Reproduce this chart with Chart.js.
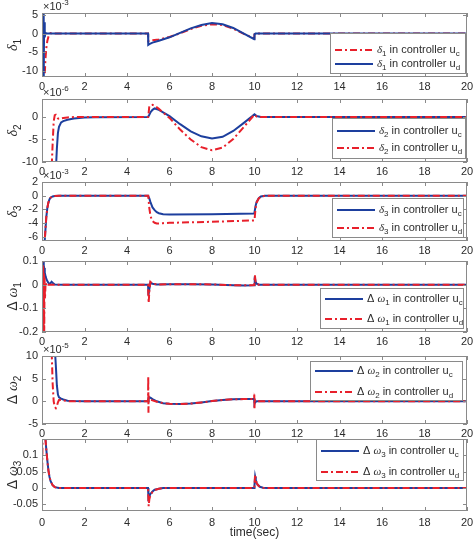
<!DOCTYPE html>
<html>
<head>
<meta charset="utf-8">
<script src="https://cdn.jsdelivr.net/npm/chart.js@4.4.1/dist/chart.umd.min.js"></script>
<style>
  html, body { margin: 0; padding: 0; background: #fff; }
  #fig { position: relative; width: 474px; height: 542px; overflow: hidden; background: #fff; }
  .panel { position: absolute; left: 0; width: 474px; }
</style>
</head>
<body>
<div id="fig"></div>
<script>
'use strict';
//x axis ticks shared by every panel
var xTicks = [0, 2, 4, 6, 8, 10, 12, 14, 16, 18, 20];

//delta 1 (x10^-3)
var delta1Time = [0, 0.02, 0.04, 0.06, 0.08, 0.1, 0.13, 0.16, 0.2, 0.25, 0.3, 0.35, 0.4, 0.5, 0.6, 1, 4.99, 5, 5.05, 5.2, 5.5, 6, 6.5, 7, 7.5, 8, 8.5, 9, 9.5, 9.99, 10, 10.05, 20];
var delta1Uc = [-14, -14, -14, -14, -14, -14, -11, -7, -4, -2, -0.9, -0.3, 0.1, 0, 0, 0, 0, -2, -1.9, -1.8, -1.6, -0.9, 0.1, 1.2, 2.1, 2.5, 2.3, 1.3, -0.1, -1.3, -0.2, 0, 0];
var delta1Ud = [0, 7, -14, 7, -14, 3, -1, 0.3, 0, 0, 0, 0, 0, 0, 0, 0, 0, -3, -2.8, -2.4, -1.9, -1.0, 0.2, 1.4, 2.3, 2.8, 2.5, 1.5, 0, -1.5, -0.2, 0, 0];
var delta1Ticks = [-10, -5, 0, 5];

//delta 2 (x10^-6)
var delta2Time = [0, 0.45, 0.5, 0.55, 0.6, 0.65, 0.7, 0.75, 0.8, 0.9, 1, 1.2, 1.5, 2, 2.5, 4.99, 5, 5.05, 5.1, 5.2, 5.3, 5.5, 6, 6.5, 7, 7.5, 8, 8.5, 9, 9.5, 9.9, 10, 10.1, 10.3, 20];
var delta2Uc = [-12, -12, -12, -12, -12, -12, -7, -3.5, -2.2, -1.2, -0.9, -0.6, -0.35, -0.12, -0.04, 0, 0, 0.5, 1.0, 1.6, 1.9, 1.6, 0.2, -1.6, -3.2, -4.3, -4.8, -4.4, -3.1, -1.3, 0.2, 0.6, 0.2, 0, 0];
var delta2Ud = [-12, -12, -6, -1, 0.4, 0.5, 0.1, -0.3, -0.4, -0.3, -0.2, -0.1, 0, 0, 0, 0, 0, 2.4, 2.6, 2.7, 2.5, 1.8, -0.2, -2.8, -5.0, -6.7, -7.4, -6.8, -4.9, -2.2, 0, 0.5, 0.1, 0, 0];
var delta2Ticks = [-10, -5, 0];

//delta 3 (x10^-3)
var delta3Time = [0, 0.1, 0.15, 0.2, 0.25, 0.3, 0.35, 0.4, 0.5, 0.6, 0.8, 4.99, 5, 5.05, 5.1, 5.15, 5.2, 5.3, 5.4, 5.5, 5.7, 6, 8, 9.99, 10, 10.05, 10.1, 10.2, 10.3, 10.5, 20];
var delta3Uc = [-8, -8, -5.5, -3.2, -1.8, -1.0, -0.55, -0.3, -0.1, -0.03, 0, 0, 0, -0.4, -0.9, -1.3, -1.7, -2.1, -2.4, -2.55, -2.7, -2.75, -2.7, -2.6, -2.6, -1.5, -0.9, -0.35, -0.12, 0, 0];
var delta3Ud = [-8, -8, -5.5, -3.2, -1.8, -1.0, -0.55, -0.3, -0.1, -0.03, 0, 0, 0, -1.8, -2.8, -3.4, -3.7, -3.95, -4.05, -4.05, -4.0, -3.95, -3.8, -3.6, -3.6, -1.8, -1.0, -0.4, -0.12, 0, 0];
var delta3Ticks = [-6, -4, -2, 0, 2];

//delta omega 1
var dw1Time = [0, 0.015, 0.03, 0.045, 0.06, 0.075, 0.09, 0.105, 0.12, 0.14, 0.17, 0.2, 0.25, 0.3, 0.35, 0.4, 0.45, 0.5, 0.6, 1, 4.99, 5, 5.02, 5.05, 5.1, 5.2, 5.4, 6, 7, 8, 9, 9.5, 9.99, 10, 10.02, 10.05, 10.1, 10.2, 20];
var dw1Uc = [0.12, 0.12, 0.11, 0.11, 0.1, 0.09, 0.08, 0.07, 0.06, 0.05, 0.035, 0.025, 0.015, 0.008, 0.004, 0.006, 0.012, 0.008, 0.001, 0, 0, -0.02, -0.045, -0.02, 0.008, 0.004, 0.001, 0.002, 0.002, 0.001, -0.002, -0.003, -0.002, 0.01, 0.035, 0.012, 0.004, 0, 0];
var dw1Ud = [0.1, -0.22, 0.12, -0.22, 0.08, -0.22, 0.05, -0.2, 0.03, -0.06, 0.01, -0.005, 0.002, 0, 0, 0, 0, 0, 0, 0, 0, -0.03, -0.078, -0.03, 0.012, 0.004, 0.001, 0.002, 0.002, 0.001, -0.002, -0.003, -0.002, 0.01, 0.04, 0.012, 0.004, 0, 0];
var dw1Ticks = [-0.2, -0.1, 0, 0.1];

//delta omega 2 (x10^-5)
var dw2Time = [0, 0.45, 0.5, 0.55, 0.6, 0.65, 0.7, 0.75, 0.8, 0.9, 1, 1.2, 1.5, 2, 4.99, 5, 5.01, 5.02, 5.03, 5.05, 5.1, 5.2, 5.4, 5.7, 6, 6.5, 7, 7.5, 8, 8.5, 9, 9.5, 9.98, 9.99, 10, 10.01, 10.03, 10.1, 20];
var dw2Uc = [12, 12, 12, 12, 12, 8, 3.5, 1.5, 0.9, 0.6, 0.4, 0.15, 0.05, 0, 0, 0, 0.3, 0.6, 0.8, 0.9, 0.8, 0.5, 0, -0.4, -0.55, -0.6, -0.5, -0.25, 0.05, 0.3, 0.45, 0.5, 0.5, 0.6, 0.2, -0.5, -0.2, 0, 0];
var dw2Ud = [12, 12, 4, 0, -1.2, -1.5, -1.0, -0.2, 0.3, 0.35, 0.2, 0.05, 0, 0, 0, 5.5, -2.5, 1.5, 0.8, 0.6, 0.4, 0.2, -0.1, -0.4, -0.55, -0.6, -0.5, -0.25, 0.05, 0.3, 0.45, 0.5, 0.5, 1.5, -1.5, 0.3, -0.1, 0, 0];
var dw2Ticks = [-5, 0, 5, 10];

//delta omega 3
var dw3Time = [0, 0.03, 0.06, 0.1, 0.15, 0.2, 0.25, 0.3, 0.35, 0.4, 0.5, 0.6, 0.8, 4.99, 5, 5.02, 5.05, 5.1, 5.2, 5.3, 5.5, 5.7, 9.99, 10, 10.03, 10.06, 10.1, 10.15, 10.25, 10.4, 10.6, 20];
var dw3Uc = [0.17, 0.17, 0.17, 0.17, 0.16, 0.12, 0.085, 0.055, 0.035, 0.022, 0.009, 0.003, 0, 0, -0.015, -0.03, -0.025, -0.018, -0.01, -0.005, -0.002, 0, 0, 0.01, 0.035, 0.025, 0.016, 0.01, 0.004, 0.001, 0, 0];
var dw3Ud = [0.01, 0.17, 0.17, 0.17, 0.16, 0.12, 0.085, 0.055, 0.035, 0.022, 0.009, 0.003, 0, 0, -0.02, -0.055, -0.035, -0.022, -0.012, -0.006, -0.002, 0, 0, 0.012, 0.042, 0.026, 0.016, 0.01, 0.004, 0.001, 0, 0];
var dw3Ticks = [-0.05, 0, 0.05, 0.1];

//line styles
var BLUE = {color: '#1d3f9e', dash: []};
var RED = {color: '#e8202b', dash: [7, 3, 2, 3]};
var BOX_COLOR = '#8a8a8a';
var TEXT_COLOR = '#2b2b2b';
var PLOT_LEFT = 42;
var PLOT_RIGHT = 467;

function deltaSym(n){
  return [{t: 'δ', it: true, serif: true}, {t: n, sub: true}];
}
function omegaSym(n){
  return [{t: 'Δ '}, {t: 'ω', it: true, serif: true}, {t: n, sub: true}];
}

//panel layout + content
var panels = [
  {top: 13, bottom: 77, ymin: -11.6, ymax: 5.5, yTicks: delta1Ticks, exp: '-3', sym: deltaSym('1'),
    time: delta1Time, series: [[delta1Uc, RED, 'c'], [delta1Ud, BLUE, 'd']], topSeries: 1,
    legendBox: [330, 33, 466, 74], legendY: [50, 64]},
  {top: 99, bottom: 162, ymin: -10, ymax: 4, yTicks: delta2Ticks, exp: '-6', sym: deltaSym('2'),
    time: delta2Time, series: [[delta2Uc, BLUE, 'c'], [delta2Ud, RED, 'd']], topSeries: 1,
    legendBox: [332, 118, 466, 159], legendY: [131, 148]},
  {top: 182, bottom: 241, ymin: -6.6, ymax: 2, yTicks: delta3Ticks, exp: '-3', sym: deltaSym('3'),
    time: delta3Time, series: [[delta3Uc, BLUE, 'c'], [delta3Ud, RED, 'd']], topSeries: 1,
    legendBox: [332, 198, 464, 238], legendY: [210, 228]},
  {top: 261, bottom: 332, ymin: -0.2, ymax: 0.1, yTicks: dw1Ticks, exp: null, sym: omegaSym('1'),
    time: dw1Time, series: [[dw1Uc, BLUE, 'c'], [dw1Ud, RED, 'd']], topSeries: 1,
    legendBox: [320, 288, 464, 329], legendY: [299, 319]},
  {top: 356, bottom: 424, ymin: -5, ymax: 10, yTicks: dw2Ticks, exp: '-5', sym: omegaSym('2'),
    time: dw2Time, series: [[dw2Uc, BLUE, 'c'], [dw2Ud, RED, 'd']], topSeries: 1,
    legendBox: [310, 361, 463, 401], legendY: [371, 392]},
  {top: 439, bottom: 511, ymin: -0.07, ymax: 0.15, yTicks: dw3Ticks, exp: null, sym: omegaSym('3'),
    time: dw3Time, series: [[dw3Uc, BLUE, 'c'], [dw3Ud, RED, 'd']], topSeries: 1,
    legendBox: [316, 439, 464, 481], legendY: [451, 472], xlabel: 'time(sec)', xPad: 5}
];

Chart.defaults.font.family = "'Liberation Sans', Arial, sans-serif";
Chart.defaults.font.size = 11;
Chart.defaults.color = TEXT_COLOR;

//rich text helpers (subscripts / superscripts)
function richFont(p, size){
  var s = (p.sub || p.sup) ? Math.round(size * 0.72) : size;
  var fam = p.serif ? "'Liberation Serif', 'DejaVu Serif', serif" : "'Liberation Sans', Arial, sans-serif";
  return (p.it ? 'italic ' : '') + s + 'px ' + fam;
}
function measureRich(ctx, parts, size){
  var w = 0;
  parts.forEach(function(p){
    ctx.font = richFont(p, size);
    w += ctx.measureText(p.t).width;
  });
  return w;
}
function drawRich(ctx, parts, x, y, size){
  ctx.textAlign = 'left';
  ctx.textBaseline = 'middle';
  parts.forEach(function(p){
    ctx.font = richFont(p, size);
    var dy = p.sub ? size * 0.35 : (p.sup ? -size * 0.4 : 0);
    ctx.fillText(p.t, x, y + dy);
    x += ctx.measureText(p.t).width;
  });
  return x;
}

function toPoints(time, vals){
  var pts = [];
  for(var i = 0; i < time.length; i++){
    pts.push({x: time[i], y: vals[i]});
  }
  return pts;
}

//draws box, inward ticks, legend and labels on top of the lines
var decorPlugin = {
  id: 'matlabDecor',
  afterDraw: function(chart){
    var p = chart.options.plugins.matlabDecor.panel;
    var offY = chart.options.plugins.matlabDecor.offY;
    var ctx = chart.ctx;
    var area = chart.chartArea;
    var xs = chart.scales.x;
    var ys = chart.scales.y;

    ctx.save();
    ctx.setLineDash([]);
    ctx.strokeStyle = BOX_COLOR;
    ctx.lineWidth = 1;
    ctx.strokeRect(area.left + 0.5, area.top + 0.5, area.right - area.left - 1, area.bottom - area.top - 1);

    ctx.beginPath();
    xTicks.forEach(function(v){
      var px = Math.round(xs.getPixelForValue(v)) + 0.5;
      ctx.moveTo(px, area.bottom); ctx.lineTo(px, area.bottom - 4);
      ctx.moveTo(px, area.top); ctx.lineTo(px, area.top + 4);
    });
    p.yTicks.forEach(function(v){
      var py = Math.round(ys.getPixelForValue(v)) + 0.5;
      ctx.moveTo(area.left, py); ctx.lineTo(area.left + 4, py);
      ctx.moveTo(area.right, py); ctx.lineTo(area.right - 4, py);
    });
    ctx.stroke();

    //legend
    var b = p.legendBox;
    ctx.fillStyle = '#fff';
    ctx.fillRect(b[0], b[1] - offY, b[2] - b[0], b[3] - b[1]);
    ctx.strokeStyle = BOX_COLOR;
    ctx.strokeRect(b[0] + 0.5, b[1] - offY + 0.5, b[2] - b[0] - 1, b[3] - b[1] - 1);
    p.series.forEach(function(s, i){
      var y = p.legendY[i] - offY;
      ctx.strokeStyle = s[1].color;
      ctx.lineWidth = 2;
      ctx.setLineDash(s[1].dash);
      ctx.beginPath();
      ctx.moveTo(b[0] + 5, y); ctx.lineTo(b[0] + 43, y);
      ctx.stroke();
      ctx.setLineDash([]);
      ctx.fillStyle = TEXT_COLOR;
      var parts = p.sym.concat([{t: ' in controller u'}, {t: s[2], sub: true}]);
      drawRich(ctx, parts, b[0] + 47, y, 11);
    });

    //y axis title
    ctx.fillStyle = TEXT_COLOR;
    var w = measureRich(ctx, p.sym, 14);
    ctx.save();
    ctx.translate(13, (area.top + area.bottom) / 2);
    ctx.rotate(-Math.PI / 2);
    drawRich(ctx, p.sym, -w / 2, 0, 14);
    ctx.restore();

    //exponent label
    if(p.exp){
      drawRich(ctx, [{t: '×10'}, {t: p.exp, sup: true}], area.left + 1, area.top - 6, 11);
    }

    //x axis label
    if(p.xlabel){
      ctx.font = "12px 'Liberation Sans', Arial, sans-serif";
      ctx.textAlign = 'center';
      ctx.textBaseline = 'middle';
      ctx.fillText(p.xlabel, (area.left + area.right) / 2, area.bottom + 22);
    }
    ctx.restore();
  }
};

var fig = document.getElementById('fig');

function makePanel(p){
  var padTop = Math.min(14, p.top);
  var plotH = p.bottom - p.top;
  var xAxisH = p.xlabel ? 31 : 18;
  var offY = p.top - padTop;

  var div = document.createElement('div');
  div.className = 'panel';
  div.style.top = offY + 'px';
  div.style.height = (padTop + plotH + xAxisH) + 'px';
  var canvas = document.createElement('canvas');
  div.appendChild(canvas);
  fig.appendChild(div);

  var datasets = p.series.map(function(s, i){
    return {
      data: toPoints(p.time, s[0]),
      borderColor: s[1].color,
      borderDash: s[1].dash,
      borderWidth: 2,
      pointRadius: 0,
      tension: 0,
      fill: false,
      clip: 0,
      order: i === p.topSeries ? 0 : 1
    };
  });

  new Chart(canvas.getContext('2d'), {
    type: 'line',
    data: {datasets: datasets},
    options: {
      responsive: true,
      maintainAspectRatio: false,
      animation: false,
      events: [],
      layout: {padding: {top: padTop, right: 474 - PLOT_RIGHT, left: 0, bottom: 0}},
      plugins: {
        legend: {display: false},
        tooltip: {enabled: false},
        matlabDecor: {panel: p, offY: offY}
      },
      scales: {
        x: {
          type: 'linear',
          min: 0,
          max: 20,
          bounds: 'data',
          grid: {display: false, drawTicks: false},
          border: {display: false},
          ticks: {autoSkip: false, maxRotation: 0, padding: p.xPad || 3, color: TEXT_COLOR},
          afterBuildTicks: function(scale){
            scale.ticks = xTicks.map(function(v){ return {value: v}; });
          },
          afterFit: function(scale){
            scale.height = xAxisH;
            scale.paddingLeft = 0;
            scale.paddingRight = 0;
          }
        },
        y: {
          type: 'linear',
          min: p.ymin,
          max: p.ymax,
          bounds: 'data',
          grid: {display: false, drawTicks: false},
          border: {display: false},
          ticks: {
            autoSkip: false,
            padding: 4,
            color: TEXT_COLOR,
            callback: function(v){ return String(v); }
          },
          afterBuildTicks: function(scale){
            scale.ticks = p.yTicks.map(function(v){ return {value: v}; });
          },
          afterFit: function(scale){
            scale.width = PLOT_LEFT;
            scale.paddingTop = 0;
            scale.paddingBottom = 0;
          }
        }
      }
    },
    plugins: [decorPlugin]
  });
}

panels.forEach(makePanel);
</script>
</body>
</html>
